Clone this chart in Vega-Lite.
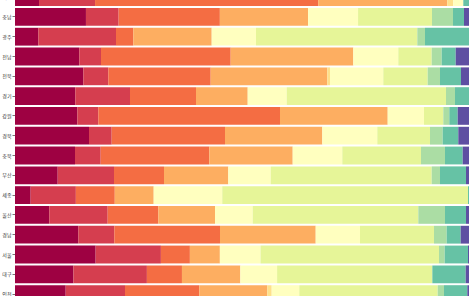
{
  "$schema": "https://vega.github.io/schema/vega-lite/v6.json",
  "width": 454,
  "height": 296,
  "autosize": {"type": "none"},
  "padding": {"left": 15, "top": 0, "right": 0, "bottom": 0},
  "background": "white",
  "config": {"view": {"stroke": null}},
  "data": {"values": [
    {"r":"대전","c":"c01","v":24},{"r":"대전","c":"c02","v":56},{"r":"대전","c":"c03","v":223},{"r":"대전","c":"c04","v":129},{"r":"대전","c":"c05","v":6},{"r":"대전","c":"c06","v":10},{"r":"대전","c":"c09","v":5.7},
    {"r":"충남","c":"c01","v":71},{"r":"충남","c":"c02","v":32.7},{"r":"충남","c":"c03","v":101.3},{"r":"충남","c":"c04","v":88.3},{"r":"충남","c":"c06","v":50},{"r":"충남","c":"c07","v":74},{"r":"충남","c":"c08","v":21},{"r":"충남","c":"c09","v":11},{"r":"충남","c":"c10","v":5},
    {"r":"광주","c":"c01","v":23.3},{"r":"광주","c":"c02","v":77.7},{"r":"광주","c":"c03","v":17.3},{"r":"광주","c":"c04","v":78.4},{"r":"광주","c":"c06","v":44.3},{"r":"광주","c":"c07","v":161.3},{"r":"광주","c":"c08","v":7.7},{"r":"광주","c":"c09","v":44},
    {"r":"전남","c":"c01","v":64.3},{"r":"전남","c":"c02","v":21.7},{"r":"전남","c":"c03","v":129.7},{"r":"전남","c":"c04","v":122.6},{"r":"전남","c":"c06","v":45},{"r":"전남","c":"c07","v":33.4},{"r":"전남","c":"c08","v":10},{"r":"전남","c":"c09","v":14},{"r":"전남","c":"c10","v":13.3},
    {"r":"전북","c":"c01","v":68.3},{"r":"전북","c":"c02","v":25},{"r":"전북","c":"c03","v":102.4},{"r":"전북","c":"c04","v":116.6},{"r":"전북","c":"c05","v":2.7},{"r":"전북","c":"c06","v":53.3},{"r":"전북","c":"c07","v":44.4},{"r":"전북","c":"c08","v":12.3},{"r":"전북","c":"c09","v":21},{"r":"전북","c":"c10","v":8},
    {"r":"경기","c":"c01","v":60.3},{"r":"경기","c":"c02","v":54.7},{"r":"경기","c":"c03","v":66},{"r":"경기","c":"c04","v":51.7},{"r":"경기","c":"c06","v":39},{"r":"경기","c":"c07","v":159.3},{"r":"경기","c":"c08","v":9},{"r":"경기","c":"c09","v":14},
    {"r":"강원","c":"c01","v":62.3},{"r":"강원","c":"c02","v":21},{"r":"강원","c":"c03","v":181.7},{"r":"강원","c":"c04","v":107.7},{"r":"강원","c":"c06","v":36.3},{"r":"강원","c":"c07","v":19.3},{"r":"강원","c":"c08","v":6},{"r":"강원","c":"c09","v":8.4},{"r":"강원","c":"c10","v":11.3},
    {"r":"경북","c":"c01","v":74},{"r":"경북","c":"c02","v":22.7},{"r":"경북","c":"c03","v":113.3},{"r":"경북","c":"c04","v":97.3},{"r":"경북","c":"c06","v":55},{"r":"경북","c":"c07","v":52.7},{"r":"경북","c":"c08","v":12.7},{"r":"경북","c":"c09","v":15.6},{"r":"경북","c":"c10","v":10.7},
    {"r":"충북","c":"c01","v":60},{"r":"충북","c":"c02","v":25.7},{"r":"충북","c":"c03","v":108.6},{"r":"충북","c":"c04","v":83.4},{"r":"충북","c":"c06","v":49.6},{"r":"충북","c":"c07","v":78.7},{"r":"충북","c":"c08","v":24},{"r":"충북","c":"c09","v":17.7},{"r":"충북","c":"c10","v":6.3},
    {"r":"부산","c":"c01","v":42.7},{"r":"부산","c":"c02","v":56.3},{"r":"부산","c":"c03","v":50},{"r":"부산","c":"c04","v":64.3},{"r":"부산","c":"c06","v":42.4},{"r":"부산","c":"c07","v":161},{"r":"부산","c":"c08","v":8.3},{"r":"부산","c":"c09","v":26},{"r":"부산","c":"c10","v":3},
    {"r":"세종","c":"c01","v":15.7},{"r":"세종","c":"c02","v":45.3},{"r":"세종","c":"c03","v":39},{"r":"세종","c":"c04","v":39},{"r":"세종","c":"c06","v":68.7},{"r":"세종","c":"c07","v":246.3},{"r":"세종","c":"c09","v":1},
    {"r":"울산","c":"c01","v":34.3},{"r":"울산","c":"c02","v":58.4},{"r":"울산","c":"c03","v":50.6},{"r":"울산","c":"c04","v":56.7},{"r":"울산","c":"c06","v":37.7},{"r":"울산","c":"c07","v":165.6},{"r":"울산","c":"c08","v":26.7},{"r":"울산","c":"c09","v":21},{"r":"울산","c":"c10","v":3},
    {"r":"경남","c":"c01","v":63.3},{"r":"경남","c":"c02","v":36},{"r":"경남","c":"c03","v":105.7},{"r":"경남","c":"c04","v":95.7},{"r":"경남","c":"c06","v":44.3},{"r":"경남","c":"c07","v":74},{"r":"경남","c":"c08","v":12.7},{"r":"경남","c":"c09","v":14},{"r":"경남","c":"c10","v":8.3},
    {"r":"서울","c":"c01","v":80.7},{"r":"서울","c":"c02","v":65.3},{"r":"서울","c":"c03","v":29},{"r":"서울","c":"c04","v":30},{"r":"서울","c":"c06","v":40.7},{"r":"서울","c":"c07","v":178.6},{"r":"서울","c":"c08","v":5.7},{"r":"서울","c":"c09","v":23.3},{"r":"서울","c":"c10","v":1},
    {"r":"대구","c":"c01","v":58.3},{"r":"대구","c":"c02","v":73.4},{"r":"대구","c":"c03","v":35},{"r":"대구","c":"c04","v":58.3},{"r":"대구","c":"c06","v":36.7},{"r":"대구","c":"c07","v":155},{"r":"대구","c":"c09","v":33.3},{"r":"대구","c":"c10","v":3.3},
    {"r":"인천","c":"c01","v":50.7},{"r":"인천","c":"c02","v":59.3},{"r":"인천","c":"c03","v":74.3},{"r":"인천","c":"c04","v":68},{"r":"인천","c":"c05","v":4.4},{"r":"인천","c":"c06","v":27.6},{"r":"인천","c":"c07","v":138.4},{"r":"인천","c":"c08","v":6.3},{"r":"인천","c":"c09","v":23.3},{"r":"인천","c":"c10","v":1.7}
  ]},
  "mark": {"type": "bar", "clip": true},
  "encoding": {
    "y": {
      "field": "r", "type": "nominal",
      "sort": ["대전","충남","광주","전남","전북","경기","강원","경북","충북","부산","세종","울산","경남","서울","대구","인천"],
      "scale": {"range": [-12.8, 304], "paddingInner": 0.1, "paddingOuter": 0.05},
      "axis": {"title": null, "labelFontSize": 5, "labelFont": "Noto Sans CJK KR", "tickSize": 3, "domain": false, "labelPadding": 1, "labelColor": "#333", "tickColor": "#777"}
    },
    "x": {"field": "v", "type": "quantitative", "stack": "normalize", "axis": null},
    "color": {
      "field": "c", "type": "nominal",
      "scale": {
        "domain": ["c01","c02","c03","c04","c05","c06","c07","c08","c09","c10"],
        "range": ["#9e0142","#d53e4f","#f46d43","#fdae61","#fee08b","#ffffbf","#e6f598","#abdda4","#66c2a5","#5e4fa2"]
      },
      "legend": null
    },
    "order": {"field": "c", "sort": "ascending"}
  }
}
